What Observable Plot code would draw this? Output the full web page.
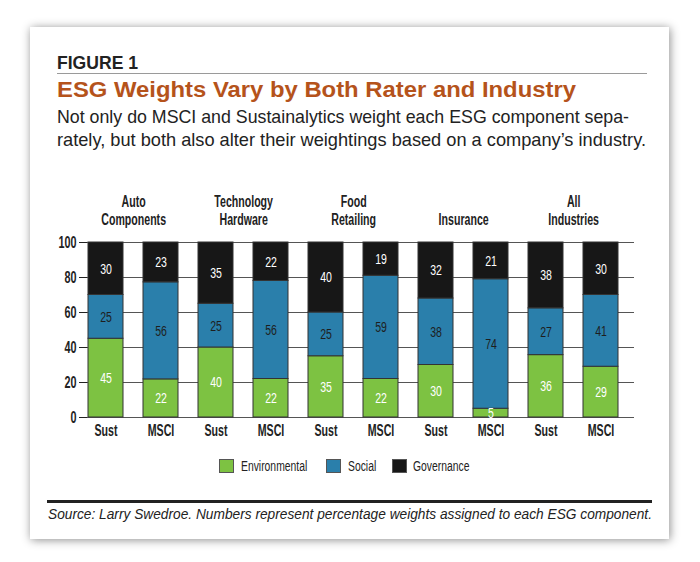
<!DOCTYPE html>
<html><head><meta charset="utf-8">
<script src="https://cdn.jsdelivr.net/npm/d3@7"></script>
<script src="https://cdn.jsdelivr.net/npm/@observablehq/plot@0.6"></script>
<style>
body{margin:0;background:#fff;width:700px;height:562px;position:relative;overflow:hidden;font-family:"Liberation Sans",Arial,Helvetica,sans-serif;}
#card{position:absolute;left:30px;top:27px;width:639px;height:512px;background:#fff;box-shadow:1px 1px 9px rgba(0,0,0,0.45);}
.abs{position:absolute;white-space:nowrap;line-height:1;transform-origin:0 0;}
#chart{position:absolute;left:0;top:190px;}
#legend{position:absolute;left:0;top:457px;width:700px;height:18px;}
.sw{position:absolute;top:2px;width:13px;height:12px;border:1px solid #555;}
.lt{position:absolute;top:1.5px;font-size:14px;color:#222;line-height:15px;white-space:nowrap;transform-origin:0 0;transform:scaleX(0.74);}
</style></head><body>
<div id="card"></div>
<div class="abs" id="fig" style="left:57px;top:54.5px;font-size:17.5px;font-weight:bold;color:#222;">FIGURE 1</div>
<div class="abs" style="left:57px;top:72.5px;width:590px;height:1.5px;background:#9a9a9a;"></div>
<div class="abs" id="title" style="left:57px;top:78.5px;font-size:22px;font-weight:bold;color:#b5531b;">ESG Weights Vary by Both Rater and Industry</div>
<div class="abs" id="sub1" style="left:57px;top:107.6px;font-size:18.5px;color:#222;">Not only do MSCI and Sustainalytics weight each ESG component sepa-</div>
<div class="abs" id="sub2" style="left:57px;top:131px;font-size:18.5px;color:#222;">rately, but both also alter their weightings based on a company’s industry.</div>
<div id="chart"></div>
<div id="legend"></div>
<div class="abs" style="left:47px;top:499.5px;width:605px;height:3.5px;background:#222;"></div>
<div class="abs" id="source" style="left:48px;top:507.2px;font-size:14px;font-style:italic;color:#222;">Source: Larry Swedroe. Numbers represent percentage weights assigned to each ESG component.</div>
<script>
const industries = ["Auto Components","Technology Hardware","Food Retailing","Insurance","All Industries"];
const industryLabels = ["Auto\nComponents","Technology\nHardware","Food\nRetailing","Insurance","All\nIndustries"];
const raters = ["Sust","MSCI"];
const components = ["Environmental","Social","Governance"];
const componentColors = ["#7dc242","#2a7fab","#171717"];
const environmental = [45,22, 40,22, 35,22, 30,5, 36,29];
const social        = [25,56, 25,56, 25,59, 38,74, 27,41];
const governance    = [30,23, 35,22, 40,19, 32,21, 38,30];
const yTicks = [0,20,40,60,80,100];

const keys = industries.flatMap(ind => raters.map(r => ind + "|" + r));
const series = {Environmental: environmental, Social: social, Governance: governance};
const data = components.flatMap(c => keys.map((k, i) => ({key: k, component: c, value: series[c][i]})));

const x0 = 88, x1 = 620.7, padIn = 0.367;
const step = (x1 - x0) / (keys.length - padIn);

const chart = Plot.plot({
  width: 700, height: 260,
  marginTop: 52, marginBottom: 33, marginLeft: 87, marginRight: 66,
  style: {fontFamily: '"Liberation Sans",Arial,sans-serif', fontSize: "13px", color: "#222", background: "transparent", overflow: "visible"},
  x: {domain: keys, range: [x0, x1], paddingInner: padIn, paddingOuter: 0, align: 0},
  y: {domain: [0, 1]},
  color: {domain: components, range: componentColors},
  marks: [
    Plot.ruleY(yTicks.map(t => t / 100), {stroke: "#555", strokeWidth: 1}),
    Plot.barY(data, Plot.stackY({x: "key", y: "value", fill: "component", z: "component", offset: "normalize", stroke: "#333", strokeWidth: 1})),
    Plot.text(data, Plot.stackY({x: "key", y: "value", z: "component", offset: "normalize", text: "value",
      fill: d => d.component === "Social" ? "#1e1e1e" : "#ffffff", fontSize: 15.5})),
    Plot.text(industries, {x: d => d + "|Sust", text: (d, i) => industryLabels[i], frameAnchor: "top",
      dx: step / 2, dy: -18, lineAnchor: "bottom", lineHeight: 1.15, fontSize: 15.6, fontWeight: "bold", fill: "#222"}),
    Plot.axisX({tickSize: 0, tickPadding: 7, fontSize: 15.6, fontWeight: "bold", label: null, tickFormat: k => k.split("|")[1]}),
    Plot.axisY({ticks: yTicks.map(t => t / 100), tickSize: 8, tickPadding: 3, fontSize: 15.9, fontWeight: "bold", label: null, tickFormat: d => Math.round(d * 100)})
  ]
});
document.getElementById("chart").appendChild(chart);

// condense chart text horizontally around each label's anchor
const squeeze = 0.68;
chart.querySelectorAll("text").forEach(t => {
  const tr = t.getAttribute("transform") || "";
  const ax = parseFloat(t.getAttribute("x")) || 0;
  t.setAttribute("transform", `${tr} translate(${ax},0) scale(${squeeze},1) translate(${-ax},0)`);
});

// legend
const legendPos = [{sw: 219, tx: 241}, {sw: 326, tx: 348}, {sw: 392, tx: 413}];
const leg = document.getElementById("legend");
components.forEach((c, i) => {
  const s = document.createElement("div");
  s.className = "sw"; s.style.left = legendPos[i].sw + "px"; s.style.background = componentColors[i];
  leg.appendChild(s);
  const t = document.createElement("div");
  t.className = "lt"; t.style.left = legendPos[i].tx + "px"; t.textContent = c;
  leg.appendChild(t);
});

// fit header/source text lines to the reference widths
function fit(id, target) {
  const el = document.getElementById(id);
  const w = el.getBoundingClientRect().width;
  el.style.transform = `scaleX(${target / w})`;
}
fit("fig", 81);
fit("title", 519);
fit("sub1", 572);
fit("sub2", 589);
fit("source", 604);
</script>
</body></html>
